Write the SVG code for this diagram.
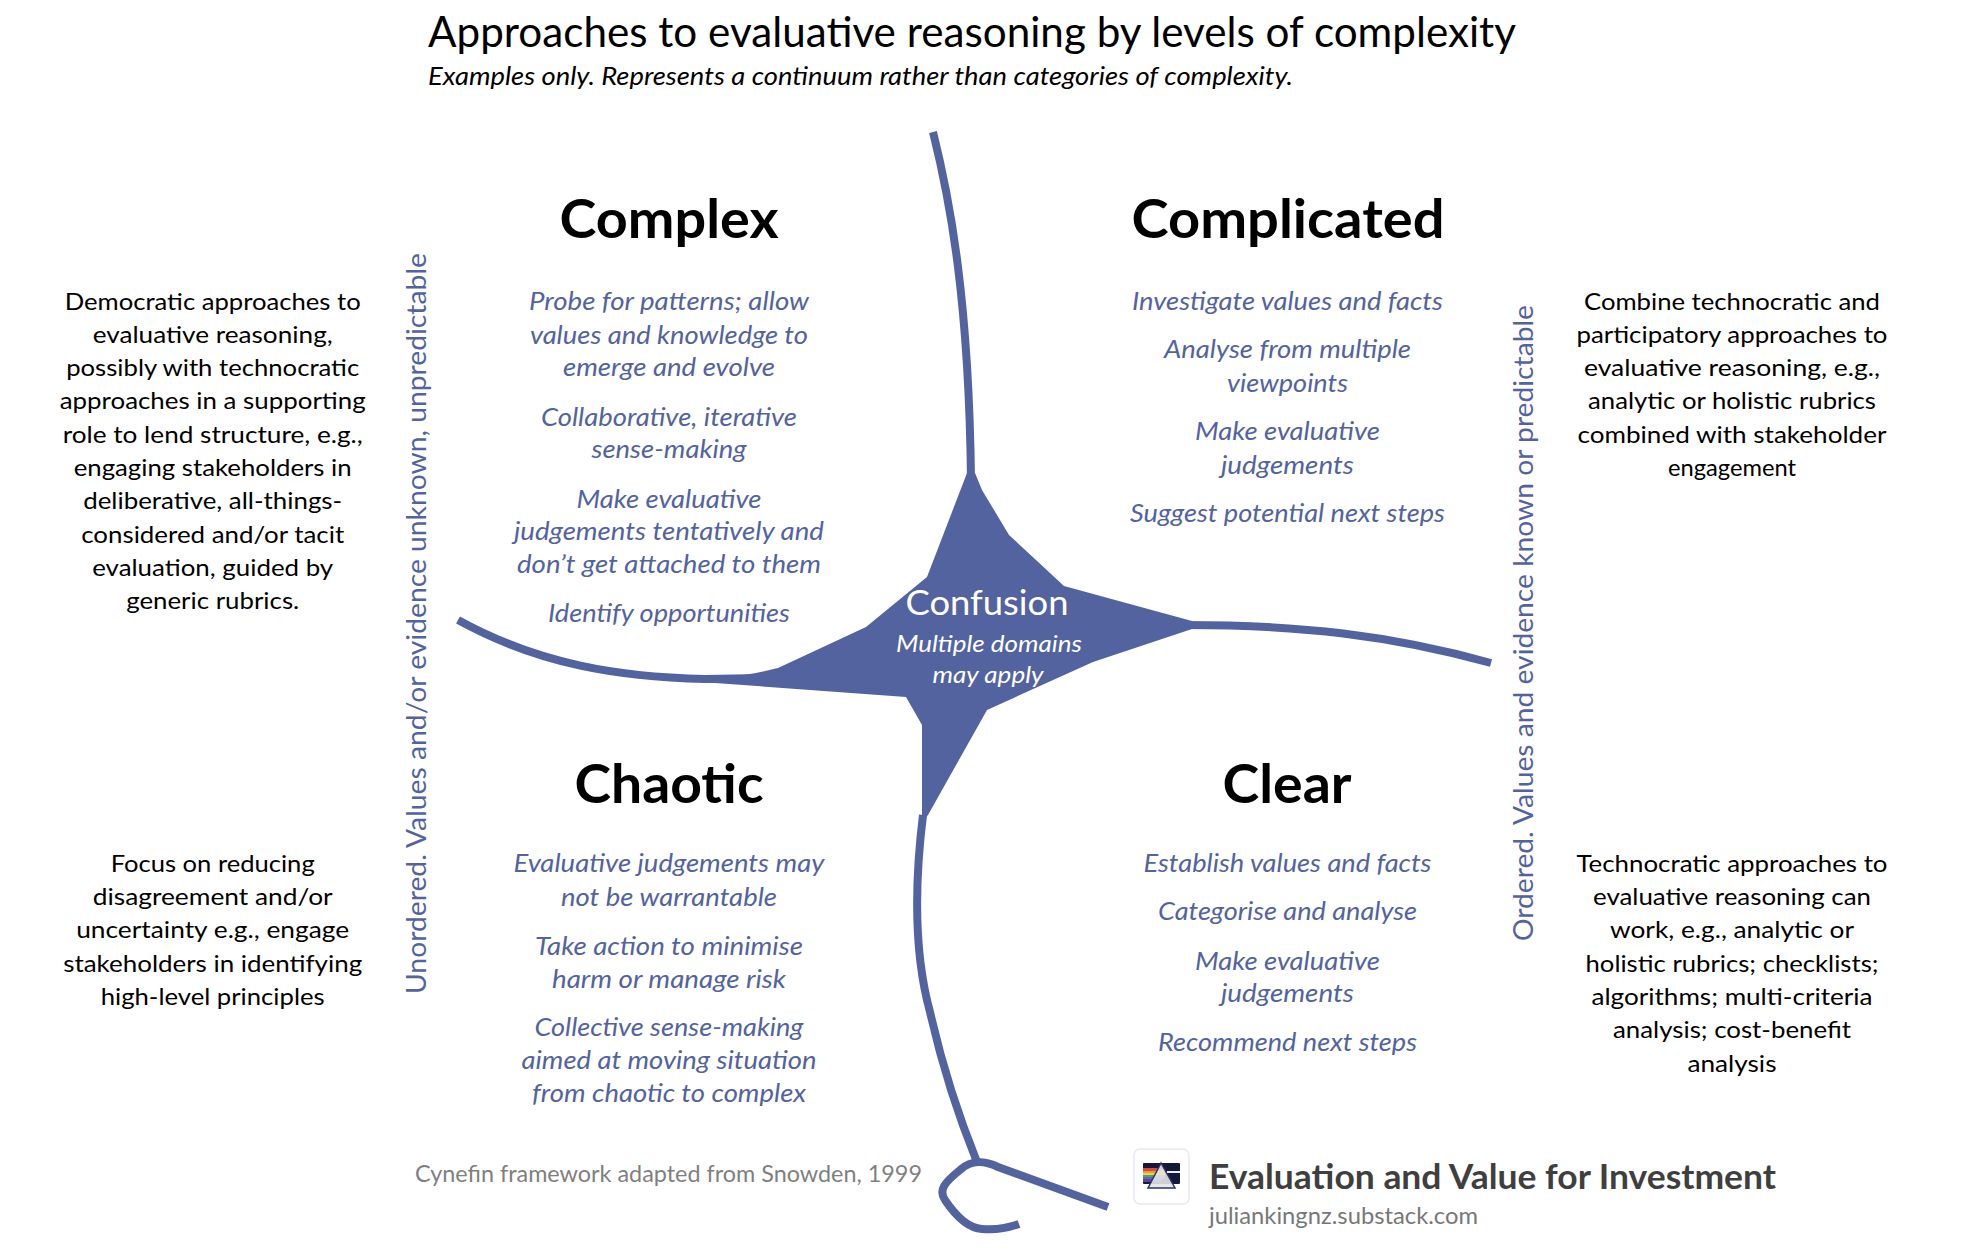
<svg xmlns="http://www.w3.org/2000/svg" width="1984" height="1260" viewBox="0 0 1984 1260">
<style>
text{font-family:Lato,"Liberation Sans",sans-serif;text-anchor:middle}
.k{font-size:24px;fill:#000}
.b{font-size:24.5px;fill:#53639f;font-style:italic}
.h{font-size:53px;font-weight:700;fill:#000}
.v{font-size:27px;fill:#53639f;text-anchor:start}
.w{font-size:24px;fill:#fff;font-style:italic}
.c{fill:none;stroke:#53639f;stroke-width:8}
</style>
<rect width="1984" height="1260" fill="#fff"/>
<g id="title">
<text x="428" y="47" style="font-size:42px;text-anchor:start" textLength="1088" lengthAdjust="spacingAndGlyphs">Approaches to evaluative reasoning by levels of complexity</text>
<text x="428" y="85" style="font-size:25.5px;font-style:italic;text-anchor:start" textLength="865" lengthAdjust="spacingAndGlyphs">Examples only. Represents a continuum rather than categories of complexity.</text>
</g>
<g id="connectors">
<path class="c" d="M933 132C950 200 969 300 971 480"/>
<path class="c" d="M458 620C540 665 620 677 705 679L770 678"/>
<path class="c" d="M1185 625C1300 625 1390 635 1491 663"/>
<path class="c" d="M923 815C915 880 913 950 930 1012C942 1065 958 1115 977 1162"/>
<path class="c" d="M1108 1207L998 1167C985 1161 972 1159 960 1170C945 1182 938 1190 945 1200C955 1215 968 1228 982 1229C995 1230 1008 1228 1019 1224"/>
</g>
<g id="confusion">
<polygon fill="#53639f" points="967,473 975,473 982,490 1009,535 1064,586 1192,621 1192,629 1093,662 987,710 928,815 922,822 922,725 906,697 701,682 756,673 778,668 866,627 927,577"/>
<text class="w" x="987" y="615" style="font-size:34px;font-style:normal" textLength="163" lengthAdjust="spacingAndGlyphs">Confusion</text>
<text class="w" x="989" y="652" textLength="186" lengthAdjust="spacingAndGlyphs">Multiple domains</text>
<text class="w" x="988" y="683" textLength="111" lengthAdjust="spacingAndGlyphs">may apply</text>
</g>
<g id="complex">
<text class="h" x="669" y="238" textLength="219" lengthAdjust="spacingAndGlyphs">Complex</text>
<text class="b" x="669" y="310" textLength="280" lengthAdjust="spacingAndGlyphs">Probe for patterns; allow</text>
<text class="b" x="669" y="343.6" textLength="278" lengthAdjust="spacingAndGlyphs">values and knowledge to</text>
<text class="b" x="669" y="376" textLength="212" lengthAdjust="spacingAndGlyphs">emerge and evolve</text>
<text class="b" x="669" y="425.5" textLength="256" lengthAdjust="spacingAndGlyphs">Collaborative, iterative</text>
<text class="b" x="669" y="458" textLength="155" lengthAdjust="spacingAndGlyphs">sense-making</text>
<text class="b" x="669" y="507.5" textLength="185" lengthAdjust="spacingAndGlyphs">Make evaluative</text>
<text class="b" x="669" y="540" textLength="310" lengthAdjust="spacingAndGlyphs">judgements tentatively and</text>
<text class="b" x="669" y="573" textLength="304" lengthAdjust="spacingAndGlyphs">don’t get attached to them</text>
<text class="b" x="669" y="622" textLength="242" lengthAdjust="spacingAndGlyphs">Identify opportunities</text>
</g>
<g id="complicated">
<text class="h" x="1288" y="238" textLength="313" lengthAdjust="spacingAndGlyphs">Complicated</text>
<text class="b" x="1287.5" y="310" textLength="311" lengthAdjust="spacingAndGlyphs">Investigate values and facts</text>
<text class="b" x="1287.5" y="358" textLength="247" lengthAdjust="spacingAndGlyphs">Analyse from multiple</text>
<text class="b" x="1287.5" y="392" textLength="121" lengthAdjust="spacingAndGlyphs">viewpoints</text>
<text class="b" x="1287.5" y="439.5" textLength="185" lengthAdjust="spacingAndGlyphs">Make evaluative</text>
<text class="b" x="1287.5" y="473.5" textLength="133" lengthAdjust="spacingAndGlyphs">judgements</text>
<text class="b" x="1287.5" y="522" textLength="315" lengthAdjust="spacingAndGlyphs">Suggest potential next steps</text>
</g>
<g id="chaotic">
<text class="h" x="669" y="803" textLength="189" lengthAdjust="spacingAndGlyphs">Chaotic</text>
<text class="b" x="669" y="871.5" textLength="311" lengthAdjust="spacingAndGlyphs">Evaluative judgements may</text>
<text class="b" x="669" y="905.5" textLength="216" lengthAdjust="spacingAndGlyphs">not be warrantable</text>
<text class="b" x="669" y="954.5" textLength="268" lengthAdjust="spacingAndGlyphs">Take action to minimise</text>
<text class="b" x="669" y="987.5" textLength="234" lengthAdjust="spacingAndGlyphs">harm or manage risk</text>
<text class="b" x="669" y="1035.5" textLength="269" lengthAdjust="spacingAndGlyphs">Collective sense-making</text>
<text class="b" x="669" y="1069" textLength="295" lengthAdjust="spacingAndGlyphs">aimed at moving situation</text>
<text class="b" x="669" y="1101.5" textLength="274" lengthAdjust="spacingAndGlyphs">from chaotic to complex</text>
</g>
<g id="clear">
<text class="h" x="1287" y="803" textLength="129" lengthAdjust="spacingAndGlyphs">Clear</text>
<text class="b" x="1287.5" y="871.5" textLength="288" lengthAdjust="spacingAndGlyphs">Establish values and facts</text>
<text class="b" x="1287.5" y="919.5" textLength="259" lengthAdjust="spacingAndGlyphs">Categorise and analyse</text>
<text class="b" x="1287.5" y="969.5" textLength="185" lengthAdjust="spacingAndGlyphs">Make evaluative</text>
<text class="b" x="1287.5" y="1001.5" textLength="133" lengthAdjust="spacingAndGlyphs">judgements</text>
<text class="b" x="1287.5" y="1051" textLength="259" lengthAdjust="spacingAndGlyphs">Recommend next steps</text>
</g>
<g id="note-complex">
<text class="k" x="212.7" y="309.5" textLength="296" lengthAdjust="spacingAndGlyphs">Democratic approaches to</text>
<text class="k" x="212.7" y="342.8" textLength="240" lengthAdjust="spacingAndGlyphs">evaluative reasoning,</text>
<text class="k" x="212.7" y="376" textLength="293" lengthAdjust="spacingAndGlyphs">possibly with technocratic</text>
<text class="k" x="212.7" y="409.4" textLength="306" lengthAdjust="spacingAndGlyphs">approaches in a supporting</text>
<text class="k" x="212.7" y="442.7" textLength="300" lengthAdjust="spacingAndGlyphs">role to lend structure, e.g.,</text>
<text class="k" x="212.7" y="476" textLength="278" lengthAdjust="spacingAndGlyphs">engaging stakeholders in</text>
<text class="k" x="212.7" y="509.3" textLength="259" lengthAdjust="spacingAndGlyphs">deliberative, all-things-</text>
<text class="k" x="212.7" y="542.6" textLength="263" lengthAdjust="spacingAndGlyphs">considered and/or tacit</text>
<text class="k" x="212.7" y="576" textLength="241" lengthAdjust="spacingAndGlyphs">evaluation, guided by</text>
<text class="k" x="212.7" y="609.3" textLength="173" lengthAdjust="spacingAndGlyphs">generic rubrics.</text>
</g>
<g id="note-chaotic">
<text class="k" x="212.7" y="871.5" textLength="204" lengthAdjust="spacingAndGlyphs">Focus on reducing</text>
<text class="k" x="212.7" y="905" textLength="240" lengthAdjust="spacingAndGlyphs">disagreement and/or</text>
<text class="k" x="212.7" y="938" textLength="273" lengthAdjust="spacingAndGlyphs">uncertainty e.g., engage</text>
<text class="k" x="212.7" y="971.5" textLength="299" lengthAdjust="spacingAndGlyphs">stakeholders in identifying</text>
<text class="k" x="212.7" y="1005" textLength="224" lengthAdjust="spacingAndGlyphs">high-level principles</text>
</g>
<g id="note-complicated">
<text class="k" x="1732" y="309.5" textLength="296" lengthAdjust="spacingAndGlyphs">Combine technocratic and</text>
<text class="k" x="1732" y="342.8" textLength="311" lengthAdjust="spacingAndGlyphs">participatory approaches to</text>
<text class="k" x="1732" y="376" textLength="296" lengthAdjust="spacingAndGlyphs">evaluative reasoning, e.g.,</text>
<text class="k" x="1732" y="409.4" textLength="288" lengthAdjust="spacingAndGlyphs">analytic or holistic rubrics</text>
<text class="k" x="1732" y="442.7" textLength="309" lengthAdjust="spacingAndGlyphs">combined with stakeholder</text>
<text class="k" x="1732" y="476" textLength="128" lengthAdjust="spacingAndGlyphs">engagement</text>
</g>
<g id="note-clear">
<text class="k" x="1732" y="871.5" textLength="311" lengthAdjust="spacingAndGlyphs">Technocratic approaches to</text>
<text class="k" x="1732" y="905" textLength="278" lengthAdjust="spacingAndGlyphs">evaluative reasoning can</text>
<text class="k" x="1732" y="938" textLength="244" lengthAdjust="spacingAndGlyphs">work, e.g., analytic or</text>
<text class="k" x="1732" y="971.5" textLength="293" lengthAdjust="spacingAndGlyphs">holistic rubrics; checklists;</text>
<text class="k" x="1732" y="1005" textLength="281" lengthAdjust="spacingAndGlyphs">algorithms; multi-criteria</text>
<text class="k" x="1732" y="1038" textLength="238" lengthAdjust="spacingAndGlyphs">analysis; cost-benefit</text>
<text class="k" x="1732" y="1071.5" textLength="89" lengthAdjust="spacingAndGlyphs">analysis</text>
</g>
<g id="axis-unordered">
<text class="v" transform="translate(426,994) rotate(-90)" textLength="741" lengthAdjust="spacingAndGlyphs">Unordered. Values and/or evidence unknown, unpredictable</text>
</g>
<g id="axis-ordered">
<text class="v" transform="translate(1533,941) rotate(-90)" textLength="636" lengthAdjust="spacingAndGlyphs">Ordered. Values and evidence known or predictable</text>
</g>
<g id="credit">
<text x="415" y="1182" style="font-size:23.5px;fill:#7f7f7f;text-anchor:start" textLength="507" lengthAdjust="spacingAndGlyphs">Cynefin framework adapted from Snowden, 1999</text>
</g>
<g id="logo">
<rect x="1134" y="1149" width="55" height="55" rx="6" fill="#fff" stroke="#e6e8f5" stroke-width="1.5"/>
<rect x="1143" y="1163" width="37" height="21" rx="1" fill="#14193a"/>
<polygon points="1143,1168 1160,1168 1164,1170 1143,1171" fill="#e0483e"/>
<polygon points="1143,1171 1164,1170 1165,1173 1143,1173" fill="#ef9a30"/>
<polygon points="1143,1173 1165,1173 1165,1175 1143,1175" fill="#f3d23c"/>
<polygon points="1143,1175 1165,1175 1165,1177 1143,1177" fill="#45a86a"/>
<polygon points="1143,1177 1165,1177 1163,1179 1143,1179" fill="#4a6ec0"/>
<polygon points="1143,1179 1163,1179 1160,1182 1143,1182" fill="#6a3f9c"/>
<polygon points="1161,1163 1148,1188 1175,1188" fill="#e4e4e6" fill-opacity=".9" stroke="#2b3268" stroke-width="1.5"/>
<rect x="1167" y="1171" width="13" height="2" fill="#eef"/>
</g>
<g id="brand">
<text x="1209" y="1189" style="font-size:34px;font-weight:700;fill:#3f3f3f;text-anchor:start" textLength="567" lengthAdjust="spacingAndGlyphs">Evaluation and Value for Investment</text>
<text x="1209" y="1224" style="font-size:23px;fill:#777;text-anchor:start" textLength="269" lengthAdjust="spacingAndGlyphs">juliankingnz.substack.com</text>
</g>
</svg>
